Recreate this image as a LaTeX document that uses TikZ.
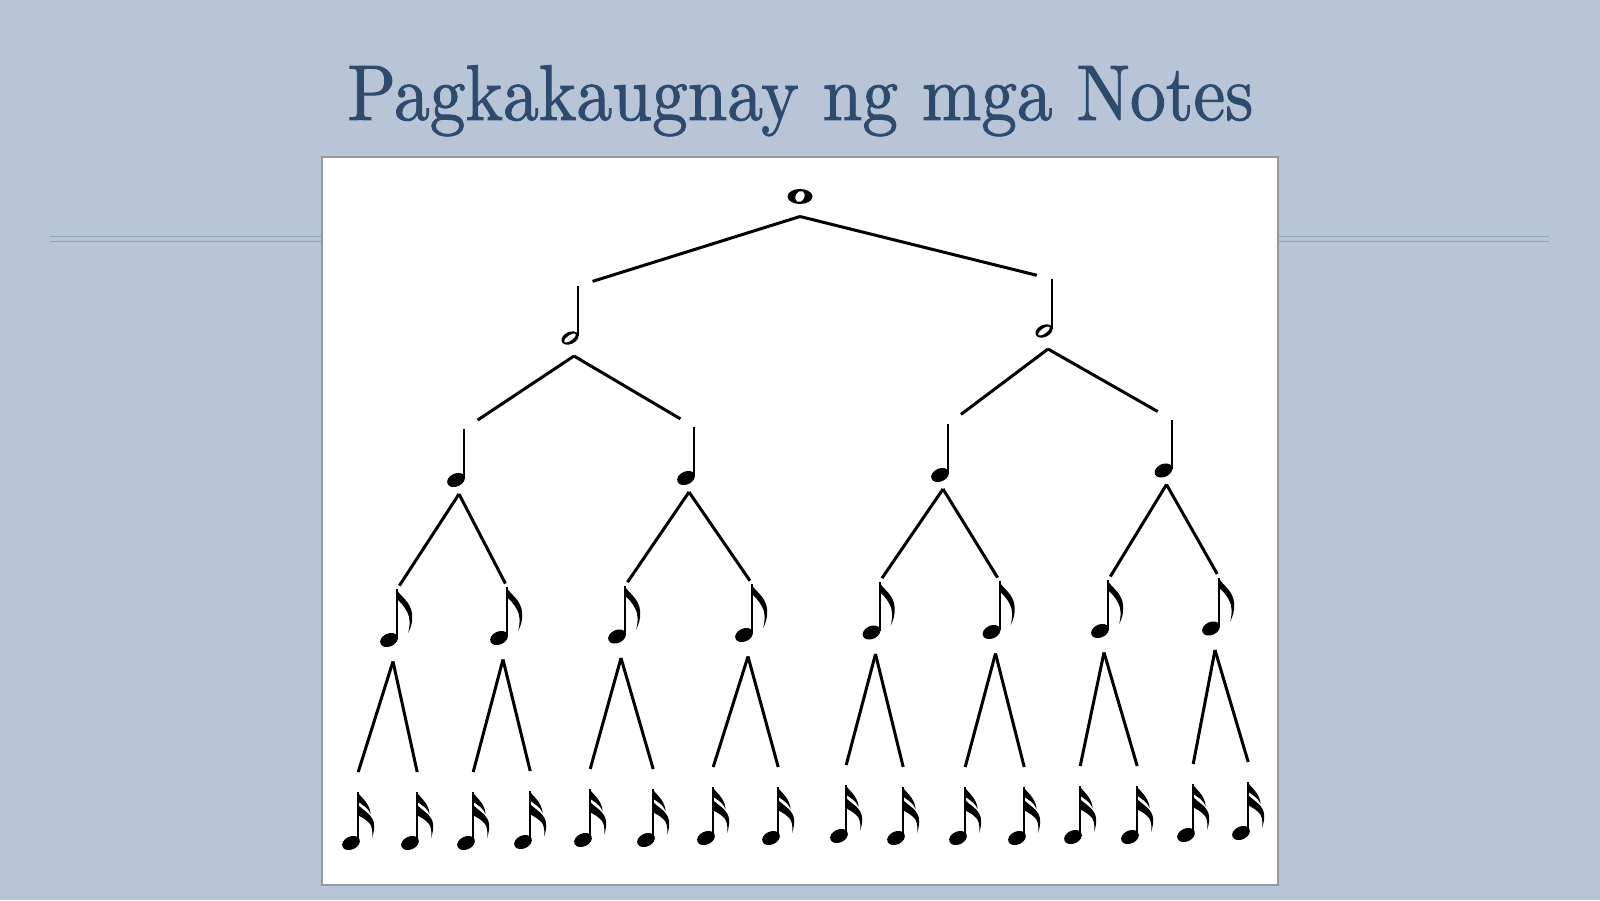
\documentclass[tikz,border=0pt]{standalone}
\usepackage{graphicx}
\usepackage{fontspec}
\newfontfamily\titlefont{lmroman10-regular.otf}[FakeBold=1.2]
\usetikzlibrary{calc}
\definecolor{slidebg}{HTML}{B7C5D6}
\definecolor{titleblue}{HTML}{2E4A6D}
\definecolor{ruleblue}{HTML}{8FA3BD}
\tikzset{
  branch/.style={line width=1.5pt, shorten >=#1},
  stem/.style={line width=1.2pt},
  wholenote/.pic={
    \fill (0,0) ellipse [x radius=12.5, y radius=7.5];
    \fill[white, rotate=-30] (0,0) ellipse [x radius=4.3, y radius=5.8];
    \coordinate (-out) at (0,20);
  },
  halfnote/.pic={
    \fill[rotate=25] (0,0) ellipse [x radius=9, y radius=6];
    \fill[white, rotate=35] (0,0) ellipse [x radius=6.8, y radius=2.6];
    \draw[stem] (7.8,-2) -- (7.8,-52);
    \coordinate (-in) at (7.8,-52);
    \coordinate (-out) at (4,18);
  },
  quarternote/.pic={
    \fill[rotate=25] (0,0) ellipse [x radius=9.3, y radius=6.5];
    \draw[stem] (8.2,-2) -- (8.2,-51);
    \coordinate (-in) at (8.2,-51);
    \coordinate (-out) at (3,14);
  },
  eighthnote/.pic={
    \fill[rotate=25] (0,0) ellipse [x radius=9.3, y radius=6.5];
    \draw[stem] (8.2,-2) -- (8.2,-51);
    \fill[shift={(8.2,-51)}] (-0.6,0) .. controls (2,7) and (14,12) .. (15,26)
      .. controls (15.5,33) and (13.5,39) .. (11,44) .. controls (13,36) and (13,28) .. (10,23)
      .. controls (7,17) and (3,13) .. (-0.6,10) -- cycle;
    \coordinate (-in) at (8.2,-51);
    \coordinate (-out) at (4,21.5);
  },
  sixteenthnote/.pic={
    \fill[rotate=25] (0,0) ellipse [x radius=9.3, y radius=6.5];
    \draw[stem] (7.2,-2) -- (7.2,-51);
    \fill[shift={(7.2,-51)}] (-0.6,0) .. controls (3,6) and (11,10) .. (12.5,22)
      .. controls (10,16) and (4,12.5) .. (-0.6,9.5) -- cycle;
    \fill[shift={(7.2,-51)}] (-0.6,12) .. controls (3,18) and (16,22) .. (16,34)
      .. controls (16,39) and (15,42) .. (14,46) .. controls (15,38) and (13,32) .. (10,30)
      .. controls (7,27) and (3,25) .. (-0.6,23) -- cycle;
    \coordinate (-in) at (7.2,-71);
  },
}
\begin{document}
\begin{tikzpicture}[x=0.5pt, y=-0.5pt]
  \useasboundingbox (0,0) rectangle (1600,900);
  \fill[slidebg] (0,0) rectangle (1600,900);

  % title and rule
  \node[anchor=base west, inner sep=0, text=titleblue] (title) at (347,120)
    {\resizebox{453pt}{27.4pt}{\titlefont\fontsize{40}{44}\selectfont Pagkakaugnay ng mga Notes}};
  \draw[ruleblue, line width=0.5pt] (50,236) -- (1549,236);
  \draw[ruleblue, line width=0.5pt] (50,241) -- (1549,241);

  % picture frame
  \draw[draw=gray!80, fill=white, line width=0.6pt] (322,157) rectangle (1278,885);

  % whole and half notes
  \pic (w) at (800,196.5) {wholenote};
  \pic (h1) at (570,338) {halfnote};
  \pic (h2) at (1044,331) {halfnote};

  % quarter notes
  \pic (q1) at (456,480) {quarternote};
  \pic (q2) at (686,478) {quarternote};
  \pic (q3) at (940,475) {quarternote};
  \pic (q4) at (1163.5,470.5) {quarternote};

  % eighth notes
  \pic (e1) at (389,640) {eighthnote};
  \pic (e2) at (499,638) {eighthnote};
  \pic (e3) at (617,636.5) {eighthnote};
  \pic (e4) at (744,635) {eighthnote};
  \pic (e5) at (871.5,632.5) {eighthnote};
  \pic (e6) at (991.5,632) {eighthnote};
  \pic (e7) at (1100,631) {eighthnote};
  \pic (e8) at (1211,628.5) {eighthnote};

  % sixteenth notes
  \pic (s1) at (351,843) {sixteenthnote};
  \pic (s2) at (410,843) {sixteenthnote};
  \pic (s3) at (466,843) {sixteenthnote};
  \pic (s4) at (523,842) {sixteenthnote};
  \pic (s5) at (583,840) {sixteenthnote};
  \pic (s6) at (646,840) {sixteenthnote};
  \pic (s7) at (706,838) {sixteenthnote};
  \pic (s8) at (771,838) {sixteenthnote};
  \pic (s9) at (839,836) {sixteenthnote};
  \pic (s10) at (896,838) {sixteenthnote};
  \pic (s11) at (958,838) {sixteenthnote};
  \pic (s12) at (1017,838) {sixteenthnote};
  \pic (s13) at (1073,837) {sixteenthnote};
  \pic (s14) at (1130,837) {sixteenthnote};
  \pic (s15) at (1186,835) {sixteenthnote};
  \pic (s16) at (1241,833) {sixteenthnote};

  % branches
  \draw[branch=7.75pt] (w-out) -- (h1-in);
  \draw[branch=7.75pt] (w-out) -- (h2-in);

  \draw[branch=8pt] (h1-out) -- (q1-in);
  \draw[branch=8pt] (h1-out) -- (q2-in);
  \draw[branch=8pt] (h2-out) -- (q3-in);
  \draw[branch=8pt] (h2-out) -- (q4-in);

  \draw[branch=2pt] (q1-out) -- (e1-in);
  \draw[branch=2pt] (q1-out) -- (e2-in);
  \draw[branch=2pt] (q2-out) -- (e3-in);
  \draw[branch=2pt] (q2-out) -- (e4-in);
  \draw[branch=2pt] (q3-out) -- (e5-in);
  \draw[branch=2pt] (q3-out) -- (e6-in);
  \draw[branch=2pt] (q4-out) -- (e7-in);
  \draw[branch=2pt] (q4-out) -- (e8-in);

  \draw[branch=0pt] (e1-out) -- (s1-in);
  \draw[branch=0pt] (e1-out) -- (s2-in);
  \draw[branch=0pt] (e2-out) -- (s3-in);
  \draw[branch=0pt] (e2-out) -- (s4-in);
  \draw[branch=0pt] (e3-out) -- (s5-in);
  \draw[branch=0pt] (e3-out) -- (s6-in);
  \draw[branch=0pt] (e4-out) -- (s7-in);
  \draw[branch=0pt] (e4-out) -- (s8-in);
  \draw[branch=0pt] (e5-out) -- (s9-in);
  \draw[branch=0pt] (e5-out) -- (s10-in);
  \draw[branch=0pt] (e6-out) -- (s11-in);
  \draw[branch=0pt] (e6-out) -- (s12-in);
  \draw[branch=0pt] (e7-out) -- (s13-in);
  \draw[branch=0pt] (e7-out) -- (s14-in);
  \draw[branch=0pt] (e8-out) -- (s15-in);
  \draw[branch=0pt] (e8-out) -- (s16-in);
\end{tikzpicture}
\end{document}
